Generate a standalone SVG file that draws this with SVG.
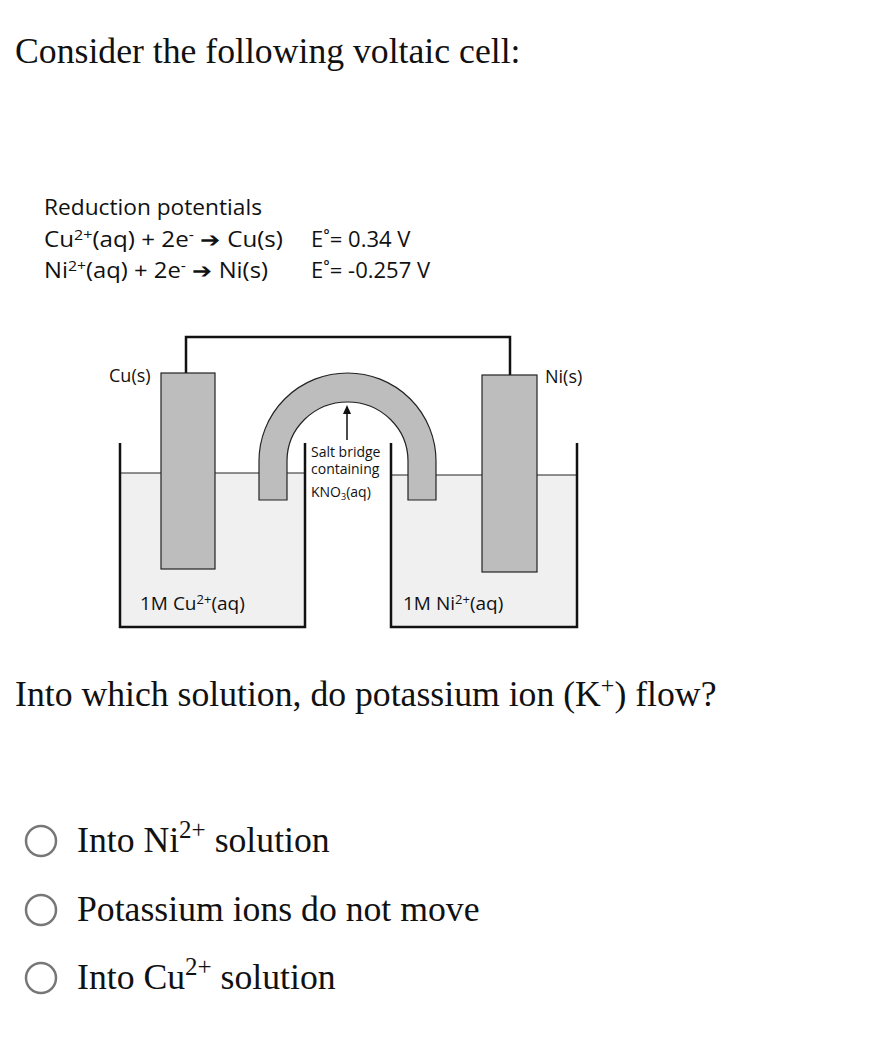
<svg xmlns="http://www.w3.org/2000/svg" width="875" height="1038" viewBox="0 0 875 1038">
<style>
.t{font-family:"Liberation Serif",serif;font-size:35.7px;fill:#111}
.s{font-family:"Open Sans","Liberation Sans",sans-serif;fill:#111}
.el{fill:#bdbdbd;stroke:#222;stroke-width:1.2}
.wall{fill:none;stroke:#111;stroke-width:2.5}
.opt{fill:#fff;stroke:#777;stroke-width:2.5}
</style>
<rect width="875" height="1038" fill="#fff"/>
<text class="t" x="15" y="63">Consider the following voltaic cell:</text>
<g id="potentials" class="s" font-size="21">
<text x="44" y="215" textLength="218" lengthAdjust="spacingAndGlyphs">Reduction potentials</text>
<text x="44" y="247" textLength="239" lengthAdjust="spacingAndGlyphs">Cu<tspan font-size="14" dy="-7">2+</tspan><tspan dy="7">(aq) + 2e</tspan><tspan font-size="14" dy="-7">-</tspan><tspan dy="7"> ➔ Cu(s)</tspan></text>
<text x="311" y="247" font-size="22">E˚= 0.34 V</text>
<text x="44" y="278" textLength="224" lengthAdjust="spacingAndGlyphs">Ni<tspan font-size="14" dy="-7">2+</tspan><tspan dy="7">(aq) + 2e</tspan><tspan font-size="14" dy="-7">-</tspan><tspan dy="7"> ➔ Ni(s)</tspan></text>
<text x="311" y="278" font-size="22">E˚= -0.257 V</text>
</g>
<g id="left-beaker">
<rect x="120" y="473" width="185" height="154" fill="#f0f0f0"/>
<line x1="120" y1="473" x2="305" y2="473" stroke="#222" stroke-width="1"/>
<polyline class="wall" points="120,443 120,627 305,627 305,443"/>
<text class="s" x="140" y="610" font-size="19">1M Cu<tspan font-size="13" dy="-6">2+</tspan><tspan dy="6">(aq)</tspan></text>
</g>
<g id="right-beaker">
<rect x="391" y="475" width="186" height="152" fill="#f0f0f0"/>
<line x1="391" y1="475" x2="577" y2="475" stroke="#222" stroke-width="1"/>
<polyline class="wall" points="391,443 391,627 577,627 577,443"/>
<text class="s" x="403" y="610" font-size="19">1M Ni<tspan font-size="13" dy="-6">2+</tspan><tspan dy="6">(aq)</tspan></text>
</g>
<g id="connectors">
<polyline points="186,373 186,337 510,337 510,375" fill="none" stroke="#111" stroke-width="2.5"/>
<line x1="347" y1="440" x2="347" y2="412" stroke="#111" stroke-width="1.5"/>
<polygon points="347,405 343,414 351,414" fill="#111"/>
</g>
<g id="salt-bridge">
<path class="el" d="M259,500 L259,461 A88.5,88 0 0 1 436,461 L436,500 L408,500 L408,461 A60.5,59 0 0 0 287,461 L287,500 Z"/>
<g class="s" font-size="14">
<text x="311" y="457">Salt bridge</text>
<text x="311" y="474">containing</text>
<text x="311" y="497">KNO<tspan font-size="9" dy="3">3</tspan><tspan dy="-3">(aq)</tspan></text>
</g>
</g>
<g id="cu-electrode">
<rect class="el" x="161" y="373" width="54" height="196"/>
<text class="s" x="109" y="382" font-size="18">Cu(s)</text>
</g>
<g id="ni-electrode">
<rect class="el" x="482" y="375" width="55" height="197"/>
<text class="s" x="545" y="383" font-size="18">Ni(s)</text>
</g>
<text class="t" x="15" y="706">Into which solution, do potassium ion (K<tspan font-size="24" dy="-13">+</tspan><tspan dy="13">) flow?</tspan></text>
<g id="options">
<circle class="opt" cx="41" cy="841" r="15"/>
<text class="t" x="77" y="852">Into Ni<tspan font-size="25" dy="-14">2+</tspan><tspan dy="14"> solution</tspan></text>
<circle class="opt" cx="41" cy="910" r="15"/>
<text class="t" x="77" y="921">Potassium ions do not move</text>
<circle class="opt" cx="41" cy="978" r="15"/>
<text class="t" x="77" y="989">Into Cu<tspan font-size="25" dy="-14">2+</tspan><tspan dy="14"> solution</tspan></text>
</g>
</svg>
